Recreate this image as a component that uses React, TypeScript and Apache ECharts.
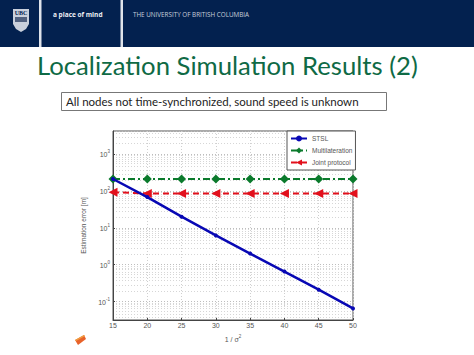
import React, { useEffect, useRef } from "react";
import * as echarts from "echarts";

const xValues = [15, 20, 25, 30, 35, 40, 45, 50];
const stsl = [210, 68, 20, 6.2, 2, 0.65, 0.21, 0.065];
const multilateration = [210, 210, 210, 210, 210, 210, 210, 210];
const jointProtocol = [92, 85, 85, 85, 85, 85, 85, 85];
const seriesNames = ["STSL", "Multilateration", "Joint protocol"];
const titleText = "Localization Simulation Results (2)";
const subtitleText = "All nodes not time-synchronized, sound speed is unknown";
const pairs = (ys: number[]) => xValues.map((x, i) => [x, ys[i]]);

export default function App() {
  const ref = useRef<HTMLDivElement>(null);
  useEffect(() => {
    document.body.style.margin = "0";
    const chart = echarts.init(ref.current!, undefined, { renderer: "svg" });
    const font = "Liberation Sans";
    const labelRich = {
      b: { fontSize: 7, color: "#555555", verticalAlign: "bottom", lineHeight: 9 },
      s: { fontSize: 4.5, color: "#555555", verticalAlign: "top", lineHeight: 9 },
    };
    chart.setOption({
      animation: false,
      backgroundColor: "#ffffff",
      textStyle: { fontFamily: font },
      grid: { left: 113, top: 131, width: 240, height: 189, show: true, borderColor: "#555555", borderWidth: 1 },
      xAxis: {
        type: "value", min: 15, max: 50, interval: 5,
        name: "{b|1 / σ}{s|2}", nameLocation: "middle", nameGap: 12,
        nameTextStyle: { fontSize: 7, color: "#555555", rich: labelRich },
        axisLine: { lineStyle: { color: "#444444" } },
        axisTick: { inside: true, length: 2, lineStyle: { color: "#444444" } },
        axisLabel: { fontSize: 7, color: "#555555", margin: 2 },
        splitLine: { show: true, lineStyle: { color: "#cfcfcf", type: [1, 2], width: 1 } },
      },
      yAxis: {
        type: "log", logBase: 10, min: 0.0316, max: 4200,
        name: "Estimation error [m]", nameLocation: "middle", nameGap: -3,
        nameTextStyle: { fontSize: 6.5, color: "#555555" },
        axisLine: { lineStyle: { color: "#444444" } },
        axisTick: { inside: true, length: 2, lineStyle: { color: "#444444" } },
        axisLabel: {
          fontSize: 7, color: "#555555", margin: 3, showMinLabel: false, showMaxLabel: false,
          formatter: (v: number) => `{b|10}{s|${Math.round(Math.log10(v))}}`,
          rich: labelRich,
        },
        splitLine: { show: true, lineStyle: { color: "#bdbdbd", type: [1, 2], width: 1 } },
        minorTick: { show: false, splitNumber: 10 },
        minorSplitLine: { show: true, lineStyle: { color: "#d6d6d6", type: [1, 2], width: 1 } },
      },
      legend: {
        orient: "vertical", left: 287, top: 131,
        backgroundColor: "#ffffff", borderColor: "#555555", borderWidth: 1, borderRadius: 0,
        padding: [4, 3, 4, 3], itemGap: 5, itemWidth: 16, itemHeight: 7.5,
        textStyle: { fontSize: 6.5, color: "#555555" },
        data: seriesNames,
      },
      series: [
        {
          name: seriesNames[0], type: "line", data: pairs(stsl), z: 5, symbol: "circle", symbolSize: 4,
          itemStyle: { color: "#0808b4" }, lineStyle: { color: "#0808b4", width: 2.5 },
        },
        {
          name: seriesNames[1], type: "line", data: pairs(multilateration), z: 4, symbol: "diamond", symbolSize: 9,
          itemStyle: { color: "#0b7a2c" }, lineStyle: { color: "#0b7a2c", width: 2, type: [7, 3, 2, 3] },
        },
        {
          name: seriesNames[2], type: "line", data: pairs(jointProtocol), z: 3, symbol: "triangle", symbolRotate: 90, symbolSize: 9,
          itemStyle: { color: "#e2101c" }, lineStyle: { color: "#e2101c", width: 2, type: [6, 4] },
        },
      ],
      graphic: [
        { type: "rect", shape: { x: 0, y: 0, width: 474, height: 47 }, style: { fill: "#03214f" } },
        { type: "rect", shape: { x: 39, y: 0, width: 2.5, height: 47 }, style: { fill: "#dfe3ea" } },
        { type: "rect", shape: { x: 120.5, y: 0, width: 2.5, height: 47 }, style: { fill: "#dfe3ea" } },
        { type: "polygon", shape: { points: [[13, 9], [29, 9], [29, 24], [26, 29], [21, 32], [16, 29], [13, 24]] }, style: { fill: "#c9d0dc" } },
        { type: "rect", shape: { x: 15, y: 17, width: 12, height: 5 }, style: { fill: "#51617f" } },
        { type: "text", x: 21, y: 12.5, style: { text: "UBC", fill: "#03214f", font: "bold 6px Liberation Serif", align: "center", verticalAlign: "middle" } },
        { type: "text", x: 53, y: 14, style: { text: "a place of mind", fill: "#eef0f4", font: "bold 6.5px Open Sans", verticalAlign: "middle" } },
        { type: "text", x: 133, y: 14, style: { text: "THE UNIVERSITY OF BRITISH COLUMBIA", fill: "#c9d0dc", font: "6.3px Open Sans", verticalAlign: "middle" } },
        { type: "text", x: 37, y: 65, style: { text: titleText, fill: "#0f6a45", font: "25.7px Lato", verticalAlign: "middle" } },
        { type: "rect", shape: { x: 61.5, y: 92.5, width: 325, height: 18 }, style: { fill: "#ffffff", stroke: "#777777", lineWidth: 1 } },
        { type: "text", x: 66, y: 101.5, style: { text: subtitleText, fill: "#222222", font: "11.5px Lato", verticalAlign: "middle" } },
        { type: "polygon", shape: { points: [[75, 340], [84, 335], [86, 339], [78, 345]] }, style: { fill: "#e8622a" } },
        { type: "polygon", shape: { points: [[75, 340], [84, 335], [85, 336], [76, 341]] }, style: { fill: "#f0a040" } },
      ],
    });
    return () => chart.dispose();
  }, []);
  return <div ref={ref} style={{ width: 474, height: 355 }} />;
}
